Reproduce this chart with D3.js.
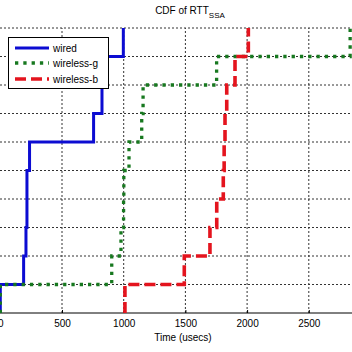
<!DOCTYPE html>
<html>
<head>
<meta charset="utf-8">
<script src="https://cdn.jsdelivr.net/npm/d3@7"></script>
<style>
  body { margin: 0; background: #fff; }
  svg { display: block; font-family: "Liberation Sans", Arial, sans-serif; }
</style>
</head>
<body>
<svg id="chart" width="352" height="352"></svg>
<script>
// CDF levels shared by all series (0 start, then 10 samples)
const cdfLevels = [0, 0.1, 0.2, 0.3, 0.4, 0.5, 0.6, 0.7, 0.8, 0.9, 1.0];
const seriesNames = ["wired", "wireless-g", "wireless-b"];
// x (usecs) at which each level is reached
const wiredX = [0, 0, 189, 208, 216, 216, 237, 756, 824, 826, 997];
const wirelessGX = [0, 0, 903, 978, 999, 1001, 1043, 1146, 1157, 1753, 2835];
const wirelessBX = [1010, 1010, 1491, 1699, 1754, 1807, 1814, 1821, 1835, 1902, 2010];
const xTicks = [0, 500, 1000, 1500, 2000, 2500];
const yTicks = [0.1, 0.2, 0.3, 0.4, 0.5, 0.6, 0.7, 0.8, 0.9, 1.0];

const svg = d3.select("#chart");
const x = d3.scaleLinear().domain([0, 3000]).range([0.3, 370.5]);
const y = d3.scaleLinear().domain([0, 1]).range([313, 28]);

const styles = [
  { color: "#0c0cd2", width: 3, dash: null },
  { color: "#17781f", width: 3.3, dash: "3.3,5" },
  { color: "#e4141e", width: 3.6, dash: "11,5" }
];

// grid
const grid = svg.append("g");
grid.selectAll(".vg").data(xTicks.filter(d => d > 0)).enter().append("line")
  .attr("x1", d => x(d)).attr("x2", d => x(d))
  .attr("y1", y(0)).attr("y2", y(1))
  .attr("stroke", "#333").attr("stroke-width", 1).attr("stroke-dasharray", "2,2");
grid.selectAll(".hg").data(yTicks).enter().append("line")
  .attr("x1", 0).attr("x2", 352)
  .attr("y1", d => y(d)).attr("y2", d => y(d))
  .attr("stroke", "#333").attr("stroke-width", 1).attr("stroke-dasharray", "2,2");

// x axis
const xAxis = svg.append("g")
  .attr("transform", `translate(0, ${y(0)})`)
  .call(d3.axisBottom(x).tickValues(xTicks).tickSize(-3).tickPadding(7).tickFormat(d3.format("d")));
xAxis.select(".domain").attr("d", `M0,0H352`).attr("stroke", "#000");
xAxis.selectAll("text").attr("font-size", 10).attr("fill", "#000")
  .attr("font-family", "Liberation Sans, Arial, sans-serif");

// lines
const line = d3.line().curve(d3.curveStepAfter)
  .x(d => x(d[0])).y(d => y(d[1]));
[wiredX, wirelessGX, wirelessBX].forEach((xs, i) => {
  const pts = xs.map((v, j) => [v, cdfLevels[j]]);
  svg.append("path")
    .datum(pts)
    .attr("fill", "none")
    .attr("stroke", styles[i].color)
    .attr("stroke-width", styles[i].width)
    .attr("stroke-dasharray", styles[i].dash)
    .attr("d", line);
});

// title
const title = svg.append("text")
  .attr("x", 190).attr("y", 13.5)
  .attr("text-anchor", "middle")
  .attr("font-size", 10);
title.append("tspan").text("CDF of RTT");
title.append("tspan").attr("dy", 4).attr("font-size", 8).text("SSA");

// x label
svg.append("text")
  .attr("x", 183).attr("y", 341)
  .attr("text-anchor", "middle")
  .attr("font-size", 10)
  .text("Time (usecs)");

// legend
const legend = svg.append("g");
legend.append("rect")
  .attr("x", 8.5).attr("y", 37.5).attr("width", 100).attr("height", 51)
  .attr("fill", "#fff").attr("stroke", "#000").attr("stroke-width", 1);
const legendY = [48, 63, 79];
seriesNames.forEach((name, i) => {
  legend.append("line")
    .attr("x1", 15).attr("x2", 49)
    .attr("y1", legendY[i]).attr("y2", legendY[i])
    .attr("stroke", styles[i].color)
    .attr("stroke-width", styles[i].width)
    .attr("stroke-dasharray", styles[i].dash);
  legend.append("text")
    .attr("x", 53).attr("y", legendY[i] + 3.5)
    .attr("font-size", 10)
    .text(name);
});
</script>
</body>
</html>
